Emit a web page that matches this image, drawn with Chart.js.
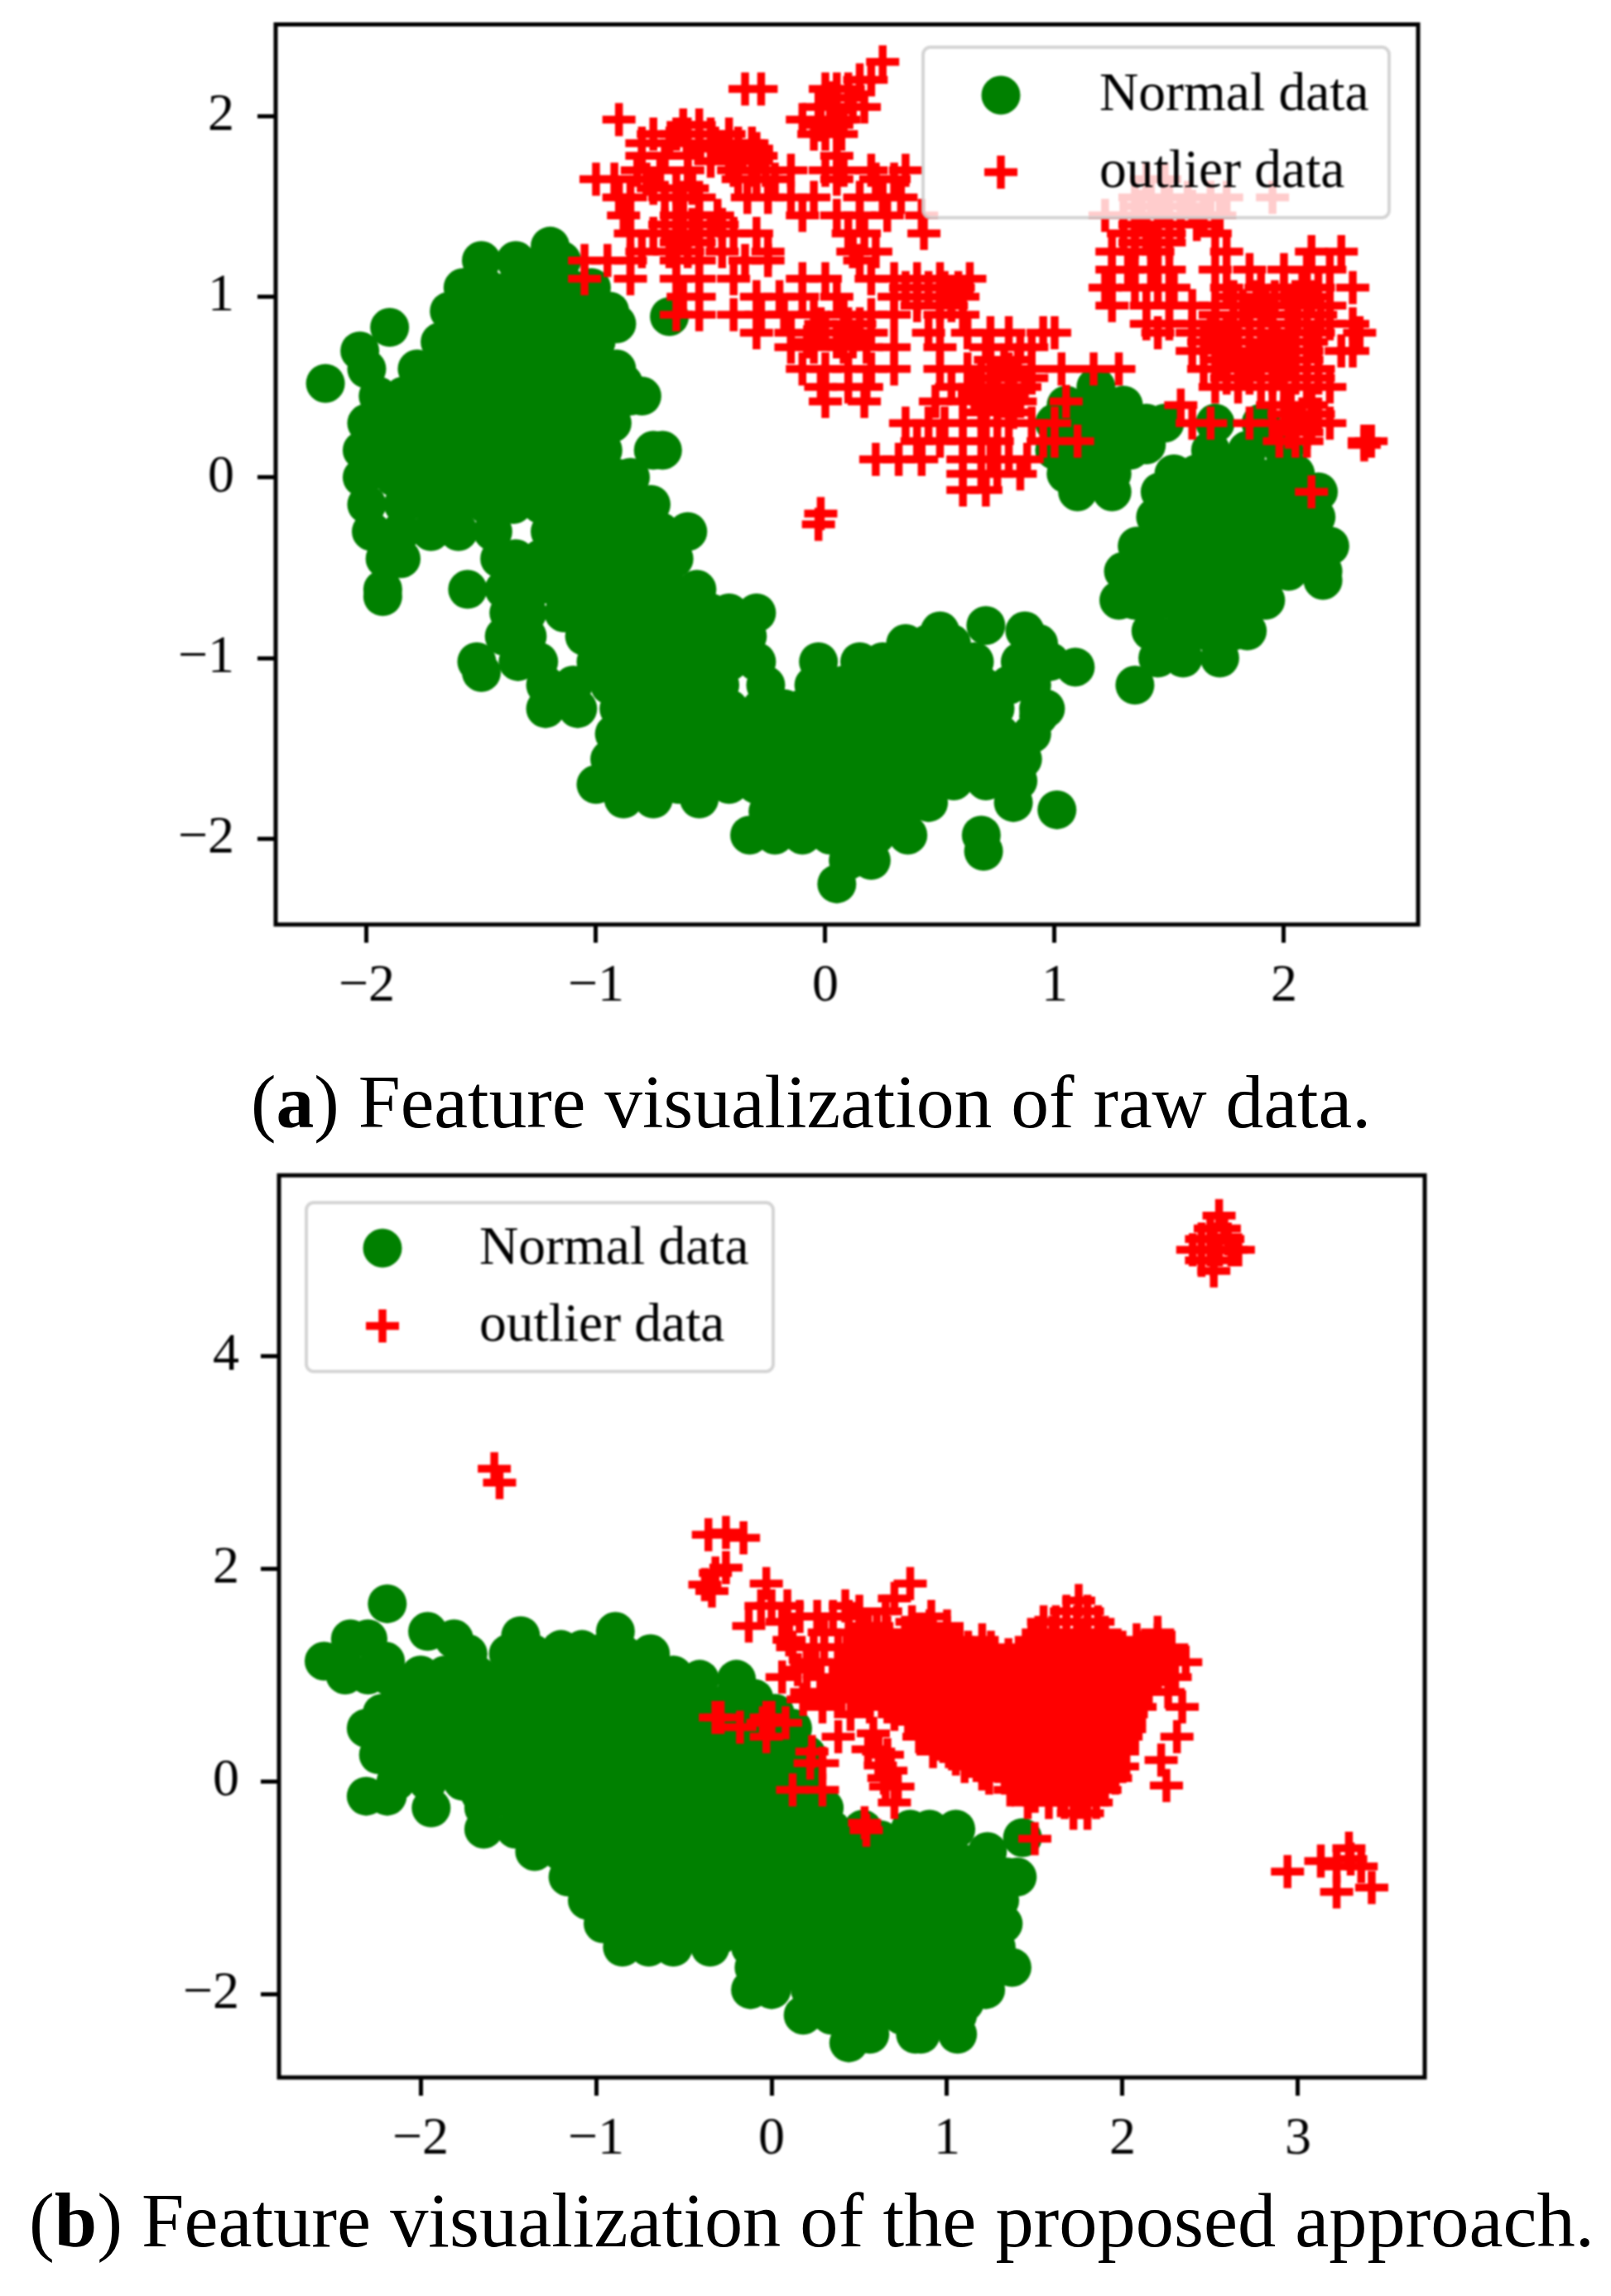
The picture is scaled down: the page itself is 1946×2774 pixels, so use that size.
<!DOCTYPE html>
<html><head><meta charset="utf-8">
<style>
html,body{margin:0;padding:0;background:#fff;width:1946px;height:2774px;overflow:hidden}
canvas{position:absolute;left:0;filter:blur(.8px)}
#ca{top:0}#cb{top:1390px}
.cap{position:absolute;white-space:nowrap;font-family:"Liberation Serif";line-height:100px;color:#000;filter:blur(.6px)}
</style>
<script src="https://cdn.jsdelivr.net/npm/chart.js@4"></script>
</head><body>
<canvas id="ca" width="1946" height="1250"></canvas>
<canvas id="cb" width="1946" height="1270"></canvas>
<div class="cap" style="left:303px;top:1281px;font-size:91.6px">(<b>a</b>) Feature visualization of raw data.</div>
<div class="cap" style="left:35px;top:2633px;font-size:92.4px">(<b>b</b>) Feature visualization of the proposed approach.</div>
<script>
const seriesLabels=["Normal data","outlier data"];
const xTickValuesA=[-2,-1,0,1,2];
const yTickValuesA=[-2,-1,0,1,2];
const xTickValuesB=[-2,-1,0,1,2,3];
const yTickValuesB=[-2,0,2,4];
const normalA=[
[1.28,[-1.2]],[1.2,[-1.5,-1.35,-1.22,-1.15]],[1.05,[-1.58,-1.48,-1.36,-1.24,-1.12,-1.02]],
[.92,[-1.64,-1.52,-1.4,-1.28,-1.16,-1.04,-.94]],[.85,[-.91,-1.6,-1.2]],[.89,[-.68]],
[.75,[-1.68,-1.56,-1.44,-1.32,-1.2,-1.08,-1.0]],[.83,[-1.9]],[.7,[-2.03]],
[.6,[-1.78,-1.66,-1.54,-1.42,-1.3,-1.18,-1.06,-.91,-2.0]],[.52,[-2.18,-.88]],
[.45,[-1.95,-1.84,-1.72,-1.6,-1.48,-1.36,-1.24,-1.12,-1.0,-.8,-.85]],
[.3,[-2.0,-1.88,-1.76,-1.64,-1.52,-1.4,-1.28,-1.16,-1.04,-.93]],
[.15,[-2.02,-1.92,-1.8,-1.68,-1.56,-1.44,-1.32,-1.2,-1.08,-.97,-.75,-.71]],
[0,[-2.02,-1.88,-1.76,-1.64,-1.52,-1.4,-1.28,-1.16,-1.04,-.92,-.85]],
[-.15,[-2.0,-1.84,-1.72,-1.6,-1.48,-1.36,-1.24,-1.12,-1.0,-.88,-.76]],
[-.3,[-1.98,-1.85,-1.72,-1.6,-1.45,-1.2,-1.08,-.96,-.84,-.72,-.6]],
[-.45,[-1.85,-1.92,-1.42,-1.35,-1.24,-1.12,-1.0,-.88,-.76,-.66]],
[-.62,[-1.93,-1.56,-1.4,-1.28,-1.16,-1.04,-.92,-.8,-.68,-.56]],[-.66,[-1.93]],
[-.75,[-1.38,-1.3,-1.14,-1.02,-.9,-.78,-.66,-.5,-.42,-.3]],
[-.88,[-1.4,-1.3,-1.05,-.92,-.8,-.68,-.56,-.44,-.34]],
[-1.02,[-1.52,-1.34,-1.25,-1.0,-.88,-.76,-.64,-.52,-.42,-.3]],[-1.08,[-1.5]],
[-1.15,[-1.22,-1.1,-.94,-.82,-.7,-.58,-.46,-.26]],
[-1.28,[-1.22,-1.08,-.9,-.78,-.66,-.54,-.42,-.28,-.18,-.1]],
[-1.42,[-.92,-.8,-.68,-.56,-.44,-.32,-.2,-.08]],
[-1.56,[-.94,-.82,-.7,-.58,-.46,-.34,-.22,-.1,.02]],
[-1.7,[-1.0,-.9,-.76,-.64,-.52,-.42,-.3,-.18,-.06,.06]],
[-1.78,[-.75,-.55,-.88]],
[-1.85,[-.25,-.12,.0,.12,.24,.34]],
[-1.98,[-.33,-.22,-.1,.02,.12,.22,.36]],
[-2.12,[.1,.2]],[-2.25,[.05]],[-1.98,[.68]],[-2.07,[.69]],[-1.84,[1.01]],
[-.82,[.7]],[-.85,[.87,.5]],[-.92,[.35,.45,.55,.93]],
[-1.02,[-.03,.15,.25,.35,.45,.55,.65,.85,.98]],[-1.05,[1.09]],
[-1.15,[-.05,.08,.2,.32,.44,.56,.68,.8,.9]],
[-1.28,[.02,.14,.26,.38,.5,.62,.74,.93,.96]],[-1.32,[.93]],
[-1.42,[.04,.16,.28,.4,.52,.64,.76,.9]],
[-1.56,[.12,.24,.36,.48,.6,.72,.86]],
[-1.68,[.18,.3,.42,.56,.7,.84]],[-1.8,[.45,.82]],
[.5,[1.18]],[.42,[1.2]],[.4,[1.05,1.3]],[.35,[1.12,1.2]],[.3,[1.0,1.1,1.25,1.4,1.48,1.7,1.9]],
[.2,[1.18,1.3]],[.18,[1.4,1.1]],
[.15,[1.0,1.2,1.33,1.68,1.84,2.0]],
[.02,[1.05,1.15,1.25,1.52,1.62,1.74,1.86,1.98,2.05]],
[-.08,[1.1,1.25,1.46,1.58,1.7,1.82,1.94,2.06,2.15]],
[-.22,[1.44,1.56,1.68,1.8,1.92,2.04,2.14]],
[-.38,[1.36,1.48,1.6,1.72,1.84,1.96,2.08,2.2]],
[-.52,[1.3,1.42,1.54,1.66,1.78,1.9,2.02,2.17]],[-.57,[2.17]],
[-.68,[1.35,1.28,1.46,1.58,1.7,1.82,1.92]],
[-.85,[1.42,1.55,1.66,1.78,1.84]],
[-1.0,[1.45,1.56,1.72]],[-1.15,[1.35]]
];
const outlierA=[
[2.3,[.25]],[2.2,[.2,.15]],[2.15,[-.35,-.28,0,.1,.05]],[2.1,[.03,.1]],[2.05,[-.03,.02,.12,.17]],
[1.98,[-.9,-.1,.03,.08]],[1.95,[-.55,-.62,-.02,.05]],[1.9,[-.75,-.65,-.6,-.5,-.42,-.05,0,.07]],
[1.85,[-.8,-.68,-.55,-.48,-.38,-.32]],[1.82,[-.55,-.45,-.38,-.3]],[1.78,[-.8,-.7,-.6,-.42,-.36,-.28,.05]],[1.75,[-.5,-.42,-.3]],
[1.7,[-.82,-.72,-.6,-.4,-.32,-.26,-.15,0,.08,.2,.35]],
[1.65,[-1.0,-.92,-.78,-.38,-.3,-.22,.05,.22,.3]],[1.6,[-.75,-.65,-.58]],
[1.55,[-.9,-.85,-.7,-.62,-.55,-.34,-.25,-.15,-.05,.15,.25,.33]],
[1.45,[-.88,-.65,-.55,-.47,-.1,.05,.15,.27,.42]],[1.4,[-.7,-.58,-.45]],
[1.35,[-.85,-.75,-.62,-.5,-.4,-.3,.1,.17,.43]],[1.3,[-.65,-.55]],
[1.25,[-.8,-.68,-.6,-.45,-.25,.12,.22]],
[1.2,[-1.05,-.95,-.85,-.65,-.55,-.35,-.25,.15]],
[1.1,[-1.05,-.85,-.65,-.55,-.4,-.1,0,.2,.3,.4,.5,.63]],[1.05,[.35,.45,.52,.58]],
[1.0,[-.62,-.55,-.3,-.2,-.1,.05,.3,.4,.5,.55,.6]],[.95,[.4,.5,.55]],
[.9,[-.65,-.55,-.4,-.28,-.18,-.05,.08,.2,.3,.5,.6]],[.85,[-.02,.1,.15]],
[.8,[-.3,-.15,0,.1,.2,.45,.62,.72,.8,.95,1.0]],[.75,[-.08,.05,.12]],
[.72,[-.15,-.05,.08,.18,.3,.5,.7,.85,.9]],[.65,[.72,.78,.84]],
[.6,[-.1,0,.1,.2,.3,.5,.62,.72,.8,.9,1.03,1.17,1.28]],[.55,[.68,.75,.82,.9]],
[.5,[-.02,.1,.18,.55,.65,.72,.8,.87]],[.46,[.65,.72,.8]],
[.42,[0,.17,.48,.6,.7,.78,.85,1.05]],[.36,[.68,.75,.82]],
[.3,[.35,.45,.52,.6,.7,.8,.9,1.0]],
[.2,[.4,.5,.6,.68,.75,.95,1.1,1.0]],
[.1,[.22,.32,.42,.6,.72,.8,.88]],
[.02,[.6,.68,.75,.85]],[-.07,[.6,.7]],[-.2,[-.02]],[-.26,[-.03]],
[1.65,[1.4,1.48]],[1.55,[1.35,1.42,1.5,1.58,1.68,1.75,1.95]],[1.5,[1.38,1.48,1.6]],
[1.45,[1.22,1.3,1.38,1.45,1.55,1.65,1.72]],[1.4,[1.35,1.45,1.55,1.62]],[1.35,[1.3,1.4,1.5,1.7]],[1.3,[1.35,1.42,1.5]],
[1.25,[1.25,1.35,1.45,1.75,2.12,2.25]],
[1.15,[1.25,1.32,1.42,1.5,1.7,1.85,2.0,2.1,2.2]],
[1.05,[1.22,1.35,1.45,1.52,1.75,1.9,2.0,2.08,2.15,2.3]],[1.0,[1.78,1.88,1.96,2.05,2.12]],
[.95,[1.25,1.4,1.5,1.6,1.7,1.82,1.92,2.02,2.1,2.2]],[.9,[1.7,1.85,1.95,2.06,2.16]],
[.85,[1.4,1.5,1.6,1.7,1.78,1.9,2.02,2.1,2.2,2.3]],
[.8,[1.45,1.6,1.68,1.75,1.85,1.95,2.05,2.15,2.33]],[.75,[1.65,1.72,1.8,1.9,1.97,2.05,2.12]],
[.7,[1.6,1.7,1.78,1.85,1.93,2.0,2.1,2.25,2.3]],[.65,[1.72,1.8,1.88,1.95,2.03,2.1]],
[.6,[1.65,1.75,1.82,1.9,1.98,2.05,2.15]],[.55,[1.75,1.85,1.95,2.05,2.15]],
[.5,[1.7,1.8,1.9,2.0,2.1,2.2]],[.4,[1.55,1.95,2.03,2.12]],[.35,[2.0,2.08,2.15]],
[.3,[1.6,1.68,1.85,1.95,2.05,2.12,2.2]],[.25,[2.02,2.1]],[.2,[1.98,2.05,2.1,2.35,2.38]],
[.18,[2.35]],[-.08,[2.12]]
];
const normalB=[
[1.67,[-2.19]],[1.41,[-1.96,-.89]],[1.37,[-1.43]],[1.34,[-2.4,-2.3,-1.81]],[1.24,[-1.2,-1.08]],
[1.2,[-1.73,-1.5,-1.36,-.98,-.85,-.69]],[1.13,[-2.55,-2.45,-2.2,-1.25,-1.05]],
[1.0,[-2.43,-2.3,-2.19,-2.0,-1.86,-1.68,-1.5,-1.3,-1.1,-.9,-.7,-.56]],
[.96,[-.2,-.41]],[.88,[-1.92,-1.6,-1.4,-1.0,-.78,-.5]],
[.78,[-2.12,-1.94,-1.76,-1.58,-1.4,-1.2,-1.0,-.8,-.6,-.4,-.22,-.1]],
[.64,[-2.22,-2.05,-1.85,-1.66,-1.48,-1.3,-1.1,-.9,-.7,-.5,-.3,-.12,.02]],
[.5,[-2.31,-2.19,-2.0,-1.82,-1.62,-1.44,-1.24,-1.04,-.84,-.64,-.44,-.24,-.04,.12]],
[.37,[-2.15,-1.95,-1.75,-1.55,-1.36,-1.15,-.95,-.75,-.55,-.35,-.15,.06]],
[.25,[-2.24,-2.06,-1.88,-1.68,-1.48,-1.28,-1.08,-.88,-.68,-.48,-.28,-.08,.1,.2]],
[.12,[-1.98,-1.78,-1.58,-1.38,-1.18,-.98,-.78,-.58,-.38,-.18,.02]],
[0,[-2.14,-1.96,-1.76,-1.56,-1.36,-1.16,-.96,-.76,-.56,-.36,-.16,.04,.18]],
[-.12,[-1.66,-1.46,-1.26,-1.06,-.86,-.66,-.46,-.26,-.06,.12]],
[-.14,[-2.31,-2.19]],
[-.25,[-1.94,-1.64,-1.44,-1.24,-1.04,-.84,-.64,-.44,-.24,-.04,.16,.3]],
[-.35,[-1.36,-1.16,-.96,-.76,-.56,-.36,-.16,.04,.24]],
[-.45,[-1.64,-1.46,-1.26,-1.06,-.86,-.66,-.46,-.26,-.06,.14,.34,.52,.79,.9,1.05]],
[-.55,[-1.2,-1.0,-.8,-.6,-.4,-.2,0,.2,.4,.62,.84,1.0]],
[-.66,[-1.35,-1.2,-1.0,-.8,-.6,-.4,-.2,0,.2,.4,.6,.8,1.0,1.23]],[-.53,[1.43]],
[-.78,[-1.1,-.9,-.7,-.5,-.3,-.1,.1,.3,.5,.7,.9,1.1]],
[-.9,[-1.16,-.98,-.78,-.58,-.38,-.18,.02,.22,.42,.62,.82,1.02,1.2,1.4,1.34]],
[-1.01,[-.9,-.7,-.5,-.3,-.1,.1,.3,.5,.7,.9,1.1]],
[-1.12,[-1.05,-.88,-.68,-.48,-.28,-.08,.12,.32,.52,.72,.92,1.12,1.3]],
[-1.23,[-.8,-.6,-.4,-.2,0,.2,.4,.6,.8,1.0,1.2]],
[-1.34,[-.96,-.78,-.58,-.38,-.18,.02,.22,.42,.62,.82,1.02,1.22,1.32]],
[-1.45,[-.7,-.5,-.3,-.08,.12,.32,.52,.72,.92,1.12]],
[-1.56,[-.85,-.7,-.56,-.35,-.12,.1,.3,.5,.7,.9,1.1,1.28]],
[-1.65,[0,.2,.4,.6,.8,1.0,1.2]],
[-1.75,[-.1,.12,.34,.54,.74,.94,1.14,1.37]],
[-1.86,[.2,.44,.64,.84,1.04]],
[-1.96,[-.12,0,.22,.42,.62,.82,1.02,1.22]],
[-2.08,[.3,.5,.7,.9,1.1]],
[-2.2,[.18,.34,.54,.74,.94,1.06]],
[-2.38,[.46,.56,.82,.85,1.06]],[-2.46,[.44]]
];
const outlierB=[
[5.32,[2.55]],[5.2,[2.5,2.58]],[5.1,[2.45,2.52,2.6]],[5.0,[2.4,2.5,2.55,2.62,2.66]],[4.9,[2.45,2.52]],[4.8,[2.52]],
[2.94,[-1.58]],[2.81,[-1.55]],[2.34,[-.26]],[2.32,[-.36]],[2.29,[-.16]],[2.01,[-.26]],[1.96,[-.32]],[1.85,[-.38]],[1.79,[-.34]],
[1.86,[-.03,.79]],[1.72,[.7]],[1.65,[0,.09,-.06,.42]],[1.6,[.5,.65]],[1.55,[.26,.91,.16,.44,.35]],[1.5,[.8]],[1.46,[-.13,.6,.9,1.0,.55]],
[1.7,[1.75]],[1.6,[1.68,1.8]],[1.5,[1.55,1.62,1.74,1.86,.06]],
[1.4,[.3,.44,.52,.66,.76,.84,.92,1.0,1.52,1.6,1.68,1.8,1.9,2.2]],
[1.33,[.5,.64,.78,.92,1.06,1.2,1.48,1.62,1.76,1.9,2.08,2.2,.1]],
[1.26,[.12,.24,.3,.38,.46,.56,.64,.72,.8,.88,.96,1.04,1.12,1.25,1.46,1.55,1.64,1.73,1.82,1.91,2.0,2.12,2.2,2.28]],
[1.19,[.45,.6,.75,.9,1.05,1.2,1.35,1.5,1.65,1.8,1.95,2.1,2.25]],
[1.12,[.2,.25,.42,.54,.63,.72,.81,.9,.99,1.08,1.17,1.26,1.35,1.44,1.53,1.62,1.71,1.8,1.89,1.98,2.07,2.16,2.25,2.36]],
[1.05,[.42,.57,.72,.87,1.02,1.17,1.32,1.47,1.62,1.77,1.92,2.07,2.22,.15]],
[.98,[.06,.28,.46,.58,.67,.76,.85,.94,1.03,1.12,1.21,1.3,1.39,1.48,1.57,1.66,1.75,1.84,1.93,2.02,2.11,2.2,2.3]],
[.91,[.35,.48,.63,.78,.93,1.08,1.23,1.38,1.53,1.68,1.83,1.98,2.13]],
[.84,[.2,.3,.5,.62,.71,.8,.89,.98,1.07,1.16,1.25,1.34,1.43,1.52,1.61,1.7,1.79,1.88,1.97,2.06,2.15,2.26]],
[.77,[.18,.4,.56,.7,.85,1.0,1.15,1.3,1.45,1.6,1.75,1.9,2.05]],
[.7,[.29,.56,.66,.75,.84,.93,1.02,1.11,1.2,1.29,1.38,1.47,1.56,1.65,1.74,1.83,1.92,2.01,2.1,2.34]],
[.63,[.45,.7,.85,1.0,1.15,1.3,1.45,1.6,1.75,1.9,2.05]],
[.6,[-.29,-.32,-.03,.0]],[.51,[-.18]],[.55,[-.05,.08]],
[.56,[.78,.87,.96,1.05,1.14,1.23,1.32,1.41,1.5,1.59,1.68,1.77,1.86,1.95,2.04]],
[.49,[.85,1.0,1.15,1.3,1.45,1.6,1.75,1.9,2.04]],[.45,[.58]],
[.42,[-.03,.38,.84,.93,1.02,1.11,1.2,1.29,1.38,1.47,1.56,1.65,1.74,1.83,1.92,2.02,2.31]],
[.35,[.95,1.1,1.25,1.4,1.55,1.7,1.85,2.0]],[.3,[.55]],
[.28,[.23,.61,.92,1.01,1.1,1.19,1.28,1.37,1.46,1.55,1.64,1.73,1.82,1.91,2.0]],
[.25,[.66]],[.21,[1.05,1.2,1.35,1.5,1.65,1.8,1.95]],
[.17,[.29,.22]],[.2,[2.22]],[.15,[.62]],
[.14,[1.1,1.2,1.29,1.38,1.47,1.56,1.65,1.74,1.83,1.92,2.0]],[.1,[.68]],
[.07,[1.2,1.35,1.5,1.65,1.8,1.95]],
[.03,[.64,1.24,1.33,1.42,1.51,1.6,1.69,1.78,1.87,1.96]],
[-.02,[1.4,1.55,1.7,1.85]],[-.05,[.65,.72]],
[-.08,[.12,.29,1.36,1.45,1.54,1.63,1.72,1.81,1.9]],[-.04,[2.25]],
[-.14,[1.5,1.65,1.8]],
[-.2,[.7,1.46,1.58,1.67,1.76,1.85]],[-.3,[1.72,1.8]],
[-.39,[.53]],[-.46,[.54]],[-.54,[1.5]],
[-.85,[2.94]],[-.75,[3.13]],[-.8,[3.22,3.36]],[-.63,[3.29]],[-.73,[3.3]],[-1.04,[3.22]],[-1.0,[3.42]]
];
const expand=rows=>rows.flatMap(([y,xs])=>xs.map(x=>({x,y})));
const fontFam='"Liberation Serif"';
const frameAndLegend={
  id:'frameAndLegend',
  afterDatasetsDraw(c,_a,o){
    const ctx=c.ctx,a=c.chartArea;
    ctx.save();
    ctx.strokeStyle='#000';ctx.lineWidth=5;
    ctx.strokeRect(a.left,a.top,a.right-a.left,a.bottom-a.top);
    const b=o.box;
    ctx.beginPath();ctx.roundRect(b[0],b[1],b[2],b[3],9);
    ctx.fillStyle='rgba(255,255,255,.8)';ctx.fill();
    ctx.strokeStyle='rgba(204,204,204,.85)';ctx.lineWidth=4;ctx.stroke();
    ctx.fillStyle='#008000';
    ctx.beginPath();ctx.arc(o.markX,o.y1,23.5,0,Math.PI*2);ctx.fill();
    ctx.strokeStyle='#f00';ctx.lineWidth=9.5;
    ctx.beginPath();ctx.moveTo(o.markX-20,o.y2);ctx.lineTo(o.markX+20,o.y2);
    ctx.moveTo(o.markX,o.y2-20);ctx.lineTo(o.markX,o.y2+20);ctx.stroke();
    ctx.fillStyle='#000';ctx.font='65.5px '+fontFam;ctx.textBaseline='alphabetic';ctx.textAlign='left';
    ctx.fillText(seriesLabels[0],o.textX,o.base1);
    ctx.fillText(seriesLabels[1],o.textX,o.base2);
    ctx.restore();
  }
};
function makeChart(id,normal,outlier,cfg){
  const tickFmt=v=>(v<0?'\u2212':'')+Math.abs(v);
  const axis=(range,vals,extra)=>Object.assign({
    type:'linear',min:range[0],max:range[1],
    afterBuildTicks:s=>{s.ticks=vals.map(v=>({value:v}))},
    grid:{display:true,drawOnChartArea:false,drawTicks:true,tickLength:22,tickWidth:5,tickColor:'#000',color:'#000'},
    border:{display:false},
    ticks:{includeBounds:false,autoSkip:false,maxRotation:0,color:'#000',font:{family:fontFam,size:64},callback:tickFmt}
  },extra);
  const xa=axis(cfg.xr,cfg.xt,{afterFit:s=>{s.height=cfg.h-cfg.bottom;s.paddingLeft=0;s.paddingRight=0}});
  xa.ticks.padding=cfg.xpad;
  const ya=axis(cfg.yr,cfg.yt,{afterFit:s=>{s.width=cfg.left;s.paddingTop=0;s.paddingBottom=0}});
  ya.ticks.padding=cfg.ypad;
  return new Chart(document.getElementById(id),{
    type:'scatter',
    data:{datasets:[
      {label:seriesLabels[0],data:expand(normal),order:1,pointStyle:'circle',pointRadius:23.5,pointHoverRadius:23.5,pointBorderWidth:0,pointBackgroundColor:'#008000'},
      {label:seriesLabels[1],data:expand(outlier),order:0,pointStyle:'cross',pointRadius:20,pointHoverRadius:20,pointBorderWidth:9.5,pointBorderColor:'#ff0000',pointBackgroundColor:'#ff0000'}
    ]},
    options:{
      responsive:false,animation:false,devicePixelRatio:1,
      layout:{padding:{left:0,top:cfg.top,right:1946-cfg.right,bottom:0}},
      scales:{x:xa,y:ya},
      plugins:{legend:{display:false},tooltip:{enabled:false},frameAndLegend:cfg.legend}
    },
    plugins:[frameAndLegend]
  });
}
makeChart('ca',normalA,outlierA,{
  xr:[-2.397,2.585],yr:[-2.475,2.507],xt:xTickValuesA,yt:yTickValuesA,
  left:333,right:1713,top:26,bottom:1117,h:1250,xpad:15,ypad:28,
  legend:{box:[1115,57,563,206],markX:1209,y1:115,y2:208,textX:1328,base1:133,base2:226}
});
makeChart('cb',normalB,outlierB,{
  xr:[-2.807,3.722],yr:[-2.786,5.70],xt:xTickValuesB,yt:yTickValuesB,
  left:337,right:1721,top:30,bottom:1120,h:1270,xpad:15,ypad:26,
  legend:{box:[370,63,564,204],markX:462,y1:118,y2:212,textX:579,base1:137,base2:230}
});
</script>
</body></html>
